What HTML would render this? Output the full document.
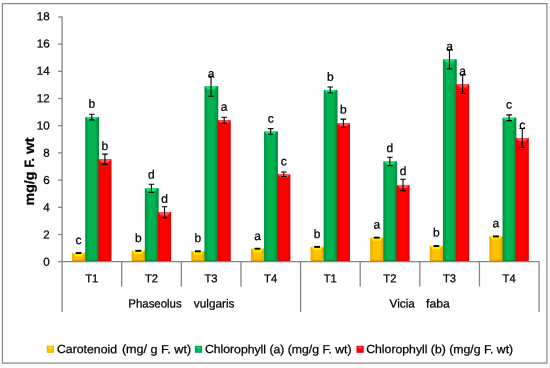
<!DOCTYPE html>
<html lang="en"><head><meta charset="utf-8"><title>Pigment content chart</title>
<style>html,body{margin:0;padding:0;background:#fff}body{width:550px;height:368px;overflow:hidden}svg{display:block}text{font-family:"Liberation Sans", sans-serif;fill:#000;stroke:#000;stroke-width:0.25px}</style></head><body>
<svg width="550" height="368" viewBox="0 0 550 368">
<defs>
<linearGradient id="gy" x1="0" x2="1" y1="0" y2="0"><stop offset="0" stop-color="#F0A600"/><stop offset="0.28" stop-color="#FFC200"/><stop offset="0.72" stop-color="#FFC200"/><stop offset="1" stop-color="#F0A600"/></linearGradient>
<linearGradient id="gg" x1="0" x2="1" y1="0" y2="0"><stop offset="0" stop-color="#008E3E"/><stop offset="0.28" stop-color="#00B352"/><stop offset="0.72" stop-color="#00B352"/><stop offset="1" stop-color="#008E3E"/></linearGradient>
<linearGradient id="gr" x1="0" x2="1" y1="0" y2="0"><stop offset="0" stop-color="#E60000"/><stop offset="0.28" stop-color="#FF0000"/><stop offset="0.72" stop-color="#FF0000"/><stop offset="1" stop-color="#E60000"/></linearGradient>
</defs>
<rect x="0" y="0" width="550" height="368" fill="#fff"/>
<rect x="2.45" y="3.6" width="544.5" height="359.5" fill="none" stroke="#868686" stroke-width="1.2"/>
<rect x="84.20" y="252.95" width="1.70" height="8.35" fill="#F0A600"/>
<rect x="72.05" y="252.95" width="13.15" height="8.35" fill="url(#gy)"/>
<path d="M72.05 261.30L85.20 261.30L83.40 259.70L73.85 259.70Z" fill="#EA9C00" opacity="0.9"/>
<path d="M72.65 252.95L84.60 252.95L82.00 256.15L75.25 256.15Z" fill="#FFEE00" opacity="0.95"/>
<rect x="97.35" y="117.05" width="1.70" height="144.25" fill="#008E3E"/>
<rect x="85.20" y="117.05" width="13.15" height="144.25" fill="url(#gg)"/>
<path d="M85.20 261.30L98.35 261.30L96.55 259.70L87.00 259.70Z" fill="#008A3C" opacity="0.9"/>
<path d="M85.80 117.05L97.75 117.05L95.15 120.25L88.40 120.25Z" fill="#10E880" opacity="0.95"/>
<rect x="98.35" y="159.25" width="13.15" height="102.05" fill="url(#gr)"/>
<path d="M98.35 261.30L111.50 261.30L109.70 259.70L100.15 259.70Z" fill="#D80000" opacity="0.9"/>
<path d="M98.95 159.25L110.90 159.25L108.30 162.45L101.55 162.45Z" fill="#FF5555" opacity="0.95"/>
<rect x="143.82" y="250.72" width="1.70" height="10.58" fill="#F0A600"/>
<rect x="131.67" y="250.72" width="13.15" height="10.58" fill="url(#gy)"/>
<path d="M131.67 261.30L144.82 261.30L143.02 259.70L133.47 259.70Z" fill="#EA9C00" opacity="0.9"/>
<path d="M132.27 250.72L144.22 250.72L141.62 253.92L134.87 253.92Z" fill="#FFEE00" opacity="0.95"/>
<rect x="156.97" y="188.29" width="1.70" height="73.01" fill="#008E3E"/>
<rect x="144.82" y="188.29" width="13.15" height="73.01" fill="url(#gg)"/>
<path d="M144.82 261.30L157.97 261.30L156.17 259.70L146.62 259.70Z" fill="#008A3C" opacity="0.9"/>
<path d="M145.42 188.29L157.37 188.29L154.77 191.49L148.02 191.49Z" fill="#10E880" opacity="0.95"/>
<rect x="157.97" y="212.18" width="13.15" height="49.12" fill="url(#gr)"/>
<path d="M157.97 261.30L171.12 261.30L169.32 259.70L159.77 259.70Z" fill="#D80000" opacity="0.9"/>
<path d="M158.57 212.18L170.52 212.18L167.92 215.38L161.17 215.38Z" fill="#FF5555" opacity="0.95"/>
<rect x="203.44" y="251.19" width="1.70" height="10.11" fill="#F0A600"/>
<rect x="191.29" y="251.19" width="13.15" height="10.11" fill="url(#gy)"/>
<path d="M191.29 261.30L204.44 261.30L202.64 259.70L193.09 259.70Z" fill="#EA9C00" opacity="0.9"/>
<path d="M191.89 251.19L203.84 251.19L201.24 254.39L194.49 254.39Z" fill="#FFEE00" opacity="0.95"/>
<rect x="216.59" y="86.25" width="1.70" height="175.05" fill="#008E3E"/>
<rect x="204.44" y="86.25" width="13.15" height="175.05" fill="url(#gg)"/>
<path d="M204.44 261.30L217.59 261.30L215.79 259.70L206.24 259.70Z" fill="#008A3C" opacity="0.9"/>
<path d="M205.04 86.25L216.99 86.25L214.39 89.45L207.64 89.45Z" fill="#10E880" opacity="0.95"/>
<rect x="217.59" y="120.17" width="13.15" height="141.13" fill="url(#gr)"/>
<path d="M217.59 261.30L230.74 261.30L228.94 259.70L219.39 259.70Z" fill="#D80000" opacity="0.9"/>
<path d="M218.19 120.17L230.14 120.17L227.54 123.37L220.79 123.37Z" fill="#FF5555" opacity="0.95"/>
<rect x="263.06" y="248.61" width="1.70" height="12.69" fill="#F0A600"/>
<rect x="250.91" y="248.61" width="13.15" height="12.69" fill="url(#gy)"/>
<path d="M250.91 261.30L264.06 261.30L262.26 259.70L252.71 259.70Z" fill="#EA9C00" opacity="0.9"/>
<path d="M251.51 248.61L263.46 248.61L260.86 251.81L254.11 251.81Z" fill="#FFEE00" opacity="0.95"/>
<rect x="276.21" y="131.44" width="1.70" height="129.86" fill="#008E3E"/>
<rect x="264.06" y="131.44" width="13.15" height="129.86" fill="url(#gg)"/>
<path d="M264.06 261.30L277.21 261.30L275.41 259.70L265.86 259.70Z" fill="#008A3C" opacity="0.9"/>
<path d="M264.66 131.44L276.61 131.44L274.01 134.64L267.26 134.64Z" fill="#10E880" opacity="0.95"/>
<rect x="277.21" y="174.32" width="13.15" height="86.98" fill="url(#gr)"/>
<path d="M277.21 261.30L290.36 261.30L288.56 259.70L279.01 259.70Z" fill="#D80000" opacity="0.9"/>
<path d="M277.81 174.32L289.76 174.32L287.16 177.52L280.41 177.52Z" fill="#FF5555" opacity="0.95"/>
<rect x="322.68" y="246.78" width="1.70" height="14.52" fill="#F0A600"/>
<rect x="310.53" y="246.78" width="13.15" height="14.52" fill="url(#gy)"/>
<path d="M310.53 261.30L323.68 261.30L321.88 259.70L312.33 259.70Z" fill="#EA9C00" opacity="0.9"/>
<path d="M311.13 246.78L323.08 246.78L320.48 249.98L313.73 249.98Z" fill="#FFEE00" opacity="0.95"/>
<rect x="335.83" y="89.91" width="1.70" height="171.39" fill="#008E3E"/>
<rect x="323.68" y="89.91" width="13.15" height="171.39" fill="url(#gg)"/>
<path d="M323.68 261.30L336.83 261.30L335.03 259.70L325.48 259.70Z" fill="#008A3C" opacity="0.9"/>
<path d="M324.28 89.91L336.23 89.91L333.63 93.11L326.88 93.11Z" fill="#10E880" opacity="0.95"/>
<rect x="336.83" y="123.16" width="13.15" height="138.14" fill="url(#gr)"/>
<path d="M336.83 261.30L349.98 261.30L348.18 259.70L338.63 259.70Z" fill="#D80000" opacity="0.9"/>
<path d="M337.43 123.16L349.38 123.16L346.78 126.36L340.03 126.36Z" fill="#FF5555" opacity="0.95"/>
<rect x="382.30" y="237.55" width="1.70" height="23.75" fill="#F0A600"/>
<rect x="370.15" y="237.55" width="13.15" height="23.75" fill="url(#gy)"/>
<path d="M370.15 261.30L383.30 261.30L381.50 259.70L371.95 259.70Z" fill="#EA9C00" opacity="0.9"/>
<path d="M370.75 237.55L382.70 237.55L380.10 240.75L373.35 240.75Z" fill="#FFEE00" opacity="0.95"/>
<rect x="395.45" y="161.42" width="1.70" height="99.88" fill="#008E3E"/>
<rect x="383.30" y="161.42" width="13.15" height="99.88" fill="url(#gg)"/>
<path d="M383.30 261.30L396.45 261.30L394.65 259.70L385.10 259.70Z" fill="#008A3C" opacity="0.9"/>
<path d="M383.90 161.42L395.85 161.42L393.25 164.62L386.50 164.62Z" fill="#10E880" opacity="0.95"/>
<rect x="396.45" y="184.90" width="13.15" height="76.40" fill="url(#gr)"/>
<path d="M396.45 261.30L409.60 261.30L407.80 259.70L398.25 259.70Z" fill="#D80000" opacity="0.9"/>
<path d="M397.05 184.90L409.00 184.90L406.40 188.10L399.65 188.10Z" fill="#FF5555" opacity="0.95"/>
<rect x="441.92" y="245.97" width="1.70" height="15.33" fill="#F0A600"/>
<rect x="429.77" y="245.97" width="13.15" height="15.33" fill="url(#gy)"/>
<path d="M429.77 261.30L442.92 261.30L441.12 259.70L431.57 259.70Z" fill="#EA9C00" opacity="0.9"/>
<path d="M430.37 245.97L442.32 245.97L439.72 249.17L432.97 249.17Z" fill="#FFEE00" opacity="0.95"/>
<rect x="455.07" y="59.38" width="1.70" height="201.92" fill="#008E3E"/>
<rect x="442.92" y="59.38" width="13.15" height="201.92" fill="url(#gg)"/>
<path d="M442.92 261.30L456.07 261.30L454.27 259.70L444.72 259.70Z" fill="#008A3C" opacity="0.9"/>
<path d="M443.52 59.38L455.47 59.38L452.87 62.58L446.12 62.58Z" fill="#10E880" opacity="0.95"/>
<rect x="456.07" y="84.21" width="13.15" height="177.09" fill="url(#gr)"/>
<path d="M456.07 261.30L469.22 261.30L467.42 259.70L457.87 259.70Z" fill="#D80000" opacity="0.9"/>
<path d="M456.67 84.21L468.62 84.21L466.02 87.41L459.27 87.41Z" fill="#FF5555" opacity="0.95"/>
<rect x="501.54" y="236.33" width="1.70" height="24.97" fill="#F0A600"/>
<rect x="489.39" y="236.33" width="13.15" height="24.97" fill="url(#gy)"/>
<path d="M489.39 261.30L502.54 261.30L500.74 259.70L491.19 259.70Z" fill="#EA9C00" opacity="0.9"/>
<path d="M489.99 236.33L501.94 236.33L499.34 239.53L492.59 239.53Z" fill="#FFEE00" opacity="0.95"/>
<rect x="514.69" y="117.73" width="1.70" height="143.57" fill="#008E3E"/>
<rect x="502.54" y="117.73" width="13.15" height="143.57" fill="url(#gg)"/>
<path d="M502.54 261.30L515.69 261.30L513.89 259.70L504.34 259.70Z" fill="#008A3C" opacity="0.9"/>
<path d="M503.14 117.73L515.09 117.73L512.49 120.93L505.74 120.93Z" fill="#10E880" opacity="0.95"/>
<rect x="515.69" y="137.95" width="13.15" height="123.35" fill="url(#gr)"/>
<path d="M515.69 261.30L528.84 261.30L527.04 259.70L517.49 259.70Z" fill="#D80000" opacity="0.9"/>
<path d="M516.29 137.95L528.24 137.95L525.64 141.15L518.89 141.15Z" fill="#FF5555" opacity="0.95"/>
<rect x="75.72" y="252.10" width="5.8" height="1.9" fill="#000"/>
<path d="M91.78 114.20V119.90M88.98 114.20H94.58M88.98 119.90H94.58" stroke="#000" stroke-width="1.1" fill="none"/>
<path d="M104.92 154.10V164.41M102.12 154.10H107.72M102.12 164.41H107.72" stroke="#000" stroke-width="1.1" fill="none"/>
<rect x="135.34" y="249.87" width="5.8" height="1.9" fill="#000"/>
<path d="M151.39 184.22V192.36M148.59 184.22H154.19M148.59 192.36H154.19" stroke="#000" stroke-width="1.1" fill="none"/>
<path d="M164.54 206.75V217.60M161.74 206.75H167.34M161.74 217.60H167.34" stroke="#000" stroke-width="1.1" fill="none"/>
<rect x="194.96" y="250.34" width="5.8" height="1.9" fill="#000"/>
<path d="M211.01 76.21V96.29M208.21 76.21H213.81M208.21 96.29H213.81" stroke="#000" stroke-width="1.1" fill="none"/>
<path d="M224.16 117.19V123.16M221.36 117.19H226.97M221.36 123.16H226.97" stroke="#000" stroke-width="1.1" fill="none"/>
<rect x="254.58" y="247.76" width="5.8" height="1.9" fill="#000"/>
<path d="M270.63 128.59V134.28M267.83 128.59H273.43M267.83 134.28H273.43" stroke="#000" stroke-width="1.1" fill="none"/>
<path d="M283.78 172.01V176.62M280.98 172.01H286.58M280.98 176.62H286.58" stroke="#000" stroke-width="1.1" fill="none"/>
<rect x="314.20" y="245.93" width="5.8" height="1.9" fill="#000"/>
<path d="M330.25 87.06V92.76M327.45 87.06H333.05M327.45 92.76H333.05" stroke="#000" stroke-width="1.1" fill="none"/>
<path d="M343.40 119.09V127.23M340.60 119.09H346.20M340.60 127.23H346.20" stroke="#000" stroke-width="1.1" fill="none"/>
<rect x="373.82" y="236.70" width="5.8" height="1.9" fill="#000"/>
<path d="M389.87 157.22V165.63M387.07 157.22H392.67M387.07 165.63H392.67" stroke="#000" stroke-width="1.1" fill="none"/>
<path d="M403.02 179.20V190.60M400.22 179.20H405.82M400.22 190.60H405.82" stroke="#000" stroke-width="1.1" fill="none"/>
<rect x="433.44" y="245.12" width="5.8" height="1.9" fill="#000"/>
<path d="M449.49 49.88V68.88M446.69 49.88H452.29M446.69 68.88H452.29" stroke="#000" stroke-width="1.1" fill="none"/>
<path d="M462.64 74.85V93.57M459.84 74.85H465.44M459.84 93.57H465.44" stroke="#000" stroke-width="1.1" fill="none"/>
<rect x="493.06" y="235.48" width="5.8" height="1.9" fill="#000"/>
<path d="M509.11 114.88V120.58M506.31 114.88H511.91M506.31 120.58H511.91" stroke="#000" stroke-width="1.1" fill="none"/>
<path d="M522.26 128.45V147.45M519.47 128.45H525.06M519.47 147.45H525.06" stroke="#000" stroke-width="1.1" fill="none"/>
<g stroke="#868686" stroke-width="1.3" fill="none">
<path d="M62.10 16.4V312"/>
<path d="M62.10 261.70H539.06"/>
<path d="M58.10 261.70H62.10"/>
<path d="M58.10 234.50H62.10"/>
<path d="M58.10 207.30H62.10"/>
<path d="M58.10 180.10H62.10"/>
<path d="M58.10 152.90H62.10"/>
<path d="M58.10 125.70H62.10"/>
<path d="M58.10 98.50H62.10"/>
<path d="M58.10 71.30H62.10"/>
<path d="M58.10 44.10H62.10"/>
<path d="M58.10 16.90H62.10"/>
<path d="M121.72 261.30V286.40"/>
<path d="M181.34 261.30V286.40"/>
<path d="M240.96 261.30V286.40"/>
<path d="M300.58 261.30V312.00"/>
<path d="M360.20 261.30V286.40"/>
<path d="M419.82 261.30V286.40"/>
<path d="M479.44 261.30V286.40"/>
<path d="M539.06 261.30V312.00"/>
</g>
<g font-size="11.6" text-anchor="end">
<text transform="translate(49.70 265.70) rotate(0.05)">0</text>
<text transform="translate(49.70 238.44) rotate(0.05)">2</text>
<text transform="translate(49.70 211.18) rotate(0.05)">4</text>
<text transform="translate(49.70 183.92) rotate(0.05)">6</text>
<text transform="translate(49.70 156.66) rotate(0.05)">8</text>
<text transform="translate(49.70 129.40) rotate(0.05)">10</text>
<text transform="translate(49.70 102.14) rotate(0.05)">12</text>
<text transform="translate(49.70 74.88) rotate(0.05)">14</text>
<text transform="translate(49.70 47.62) rotate(0.05)">16</text>
<text transform="translate(49.70 20.36) rotate(0.05)">18</text>
</g>
<g transform="translate(33.8 0) rotate(-90.04)" font-size="13.5" font-weight="bold" style="stroke-width:0">
<text x="-205.4" y="0" textLength="33.8" lengthAdjust="spacingAndGlyphs">mg/g</text>
<text x="-167.6" y="0" textLength="9.6" lengthAdjust="spacingAndGlyphs">F.</text>
<text x="-154.1" y="0" textLength="16.6" lengthAdjust="spacingAndGlyphs">wt</text>
</g>
<g font-size="12" text-anchor="middle">
<text transform="translate(78.62 243.90) rotate(0.05)">c</text>
<text transform="translate(91.78 107.70) rotate(0.05)">b</text>
<text transform="translate(104.92 149.90) rotate(0.05)">b</text>
<text transform="translate(138.24 242.10) rotate(0.05)">b</text>
<text transform="translate(151.39 178.50) rotate(0.05)">d</text>
<text transform="translate(164.54 202.80) rotate(0.05)">d</text>
<text transform="translate(197.86 242.10) rotate(0.05)">b</text>
<text transform="translate(211.01 77.60) rotate(0.05)">a</text>
<text transform="translate(224.16 110.80) rotate(0.05)">a</text>
<text transform="translate(257.48 240.10) rotate(0.05)">a</text>
<text transform="translate(270.63 122.40) rotate(0.05)">c</text>
<text transform="translate(283.78 165.30) rotate(0.05)">c</text>
<text transform="translate(317.10 238.00) rotate(0.05)">b</text>
<text transform="translate(330.25 80.80) rotate(0.05)">b</text>
<text transform="translate(343.40 113.50) rotate(0.05)">b</text>
<text transform="translate(376.72 228.50) rotate(0.05)">a</text>
<text transform="translate(389.87 152.10) rotate(0.05)">d</text>
<text transform="translate(403.02 175.10) rotate(0.05)">d</text>
<text transform="translate(436.34 236.40) rotate(0.05)">b</text>
<text transform="translate(449.49 50.30) rotate(0.05)">a</text>
<text transform="translate(462.64 75.10) rotate(0.05)">a</text>
<text transform="translate(495.96 227.20) rotate(0.05)">a</text>
<text transform="translate(509.11 108.60) rotate(0.05)">c</text>
<text transform="translate(522.26 128.90) rotate(0.05)">c</text>
</g>
<g font-size="11.4" text-anchor="middle">
<text transform="translate(91.81 282.30) rotate(0.05)" textLength="13.1" lengthAdjust="spacingAndGlyphs">T1</text>
<text transform="translate(151.43 282.30) rotate(0.05)" textLength="13.1" lengthAdjust="spacingAndGlyphs">T2</text>
<text transform="translate(211.05 282.30) rotate(0.05)" textLength="13.1" lengthAdjust="spacingAndGlyphs">T3</text>
<text transform="translate(270.67 282.30) rotate(0.05)" textLength="13.1" lengthAdjust="spacingAndGlyphs">T4</text>
<text transform="translate(330.29 282.30) rotate(0.05)" textLength="13.1" lengthAdjust="spacingAndGlyphs">T1</text>
<text transform="translate(389.91 282.30) rotate(0.05)" textLength="13.1" lengthAdjust="spacingAndGlyphs">T2</text>
<text transform="translate(449.53 282.30) rotate(0.05)" textLength="13.1" lengthAdjust="spacingAndGlyphs">T3</text>
<text transform="translate(509.15 282.30) rotate(0.05)" textLength="13.1" lengthAdjust="spacingAndGlyphs">T4</text>
</g>
<g font-size="11.8">
<text transform="translate(128.30 307.50) rotate(0.05)" textLength="53.4" lengthAdjust="spacingAndGlyphs">Phaseolus</text>
<text transform="translate(193.80 307.50) rotate(0.05)" textLength="40.7" lengthAdjust="spacingAndGlyphs">vulgaris</text>
<text transform="translate(389.60 307.50) rotate(0.05)" textLength="25.2" lengthAdjust="spacingAndGlyphs">Vicia</text>
<text transform="translate(426.10 307.50) rotate(0.05)" textLength="23.8" lengthAdjust="spacingAndGlyphs">faba</text>
</g>
<rect x="46.80" y="345.80" width="7.2" height="7.0" fill="#F2AE00"/>
<rect x="47.80" y="346.80" width="5.2" height="5.0" fill="#FFC400"/>
<path d="M47.80 346.80h5.2l-2.6 2.5z" fill="#FFEE00" opacity="0.8"/>
<rect x="194.90" y="345.80" width="7.2" height="7.0" fill="#009C47"/>
<rect x="195.90" y="346.80" width="5.2" height="5.0" fill="#00B655"/>
<path d="M195.90 346.80h5.2l-2.6 2.5z" fill="#10E880" opacity="0.8"/>
<rect x="356.50" y="345.80" width="7.2" height="7.0" fill="#E80000"/>
<rect x="357.50" y="346.80" width="5.2" height="5.0" fill="#FF0202"/>
<path d="M357.50 346.80h5.2l-2.6 2.5z" fill="#FF5555" opacity="0.8"/>
<g font-size="11.8">
<text transform="translate(57.00 353.10) rotate(0.05)" textLength="60.0" lengthAdjust="spacingAndGlyphs">Carotenoid</text>
<text transform="translate(121.90 353.10) rotate(0.05)" textLength="69.2" lengthAdjust="spacingAndGlyphs">(mg/ g F. wt)</text>
<text transform="translate(204.90 353.10) rotate(0.05)" textLength="146.7" lengthAdjust="spacingAndGlyphs">Chlorophyll (a) (mg/g F. wt)</text>
<text transform="translate(366.20 353.10) rotate(0.05)" textLength="147.0" lengthAdjust="spacingAndGlyphs">Chlorophyll (b) (mg/g F. wt)</text>
</g>
</svg></body></html>
